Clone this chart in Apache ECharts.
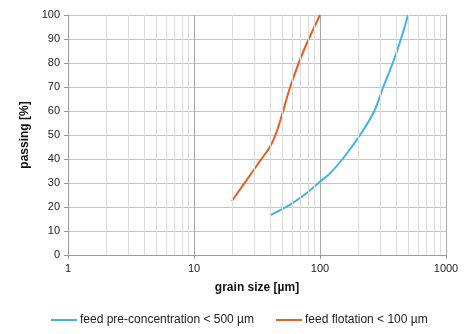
<!DOCTYPE html>
<html>
<head>
<meta charset="utf-8">
<script src="https://cdn.jsdelivr.net/npm/echarts@6/dist/echarts.min.js"></script>
<style>html,body{margin:0;padding:0;background:#fff}#c{width:474px;height:334px}</style>
</head>
<body>
<div id="c"></div>
<script>
var seriesNames = ['feed pre-concentration < 500 µm', 'feed flotation < 100 µm'];
var preConcSize = [40, 58, 78, 100, 120, 151, 208, 270, 318, 378, 439, 500];
var preConcPassing = [16.5, 21, 25.7, 30.5, 34, 40, 50, 60, 70, 80, 90, 100];
var flotSize = [20, 26, 33, 40, 45, 50, 58, 74, 100];
var flotPassing = [22.5, 31, 38.8, 45, 51, 58.5, 70, 85, 100];
var minorGrid = [2, 3, 4, 5, 6, 7, 8, 9, 20, 30, 40, 50, 60, 70, 80, 90, 200, 300, 400, 500, 600, 700, 800, 900];
var xTickLabels = ['1', '10', '100', '1000'];

function pairs(xs, ys) { return xs.map(function (x, i) { return [x, ys[i]]; }); }

var font = 'Liberation Sans, Arial, sans-serif';
var chart = echarts.init(document.getElementById('c'));
chart.setOption({
  animation: false,
  textStyle: { fontFamily: font },
  grid: { left: 68, right: 28, top: 15, bottom: 79 },
  legend: {
    data: seriesNames,
    left: 46, top: 309,
    icon: 'rect', itemWidth: 26, itemHeight: 2, itemGap: 22,
    textStyle: { fontFamily: font, fontSize: 12, color: '#222', padding: [0, 0, 0, -2] }
  },
  xAxis: {
    type: 'log', logBase: 10, min: 1, max: 1000,
    name: 'grain size [µm]', nameLocation: 'middle', nameGap: 27,
    nameTextStyle: { fontFamily: font, fontSize: 12, fontWeight: 'bold', color: '#111' },
    axisLine: { lineStyle: { color: '#9a9a9a' } },
    axisTick: { show: true, length: 4, lineStyle: { color: '#9a9a9a' } },
    axisLabel: {
      fontFamily: font, fontSize: 11, color: '#222', margin: 8,
      formatter: function (v) { var i = Math.round(Math.log10(v)); return xTickLabels[i] !== undefined ? xTickLabels[i] : String(v); }
    },
    splitLine: { show: true, lineStyle: { color: '#a8a8a8', width: 1 } }
  },
  yAxis: {
    type: 'value', min: 0, max: 100, interval: 10,
    name: 'passing [%]', nameLocation: 'middle', nameGap: 35, nameRotate: 90,
    nameTextStyle: { fontFamily: font, fontSize: 12, fontWeight: 'bold', color: '#111' },
    axisLine: { show: true, lineStyle: { color: '#9a9a9a' } },
    axisTick: { show: true, length: 4, lineStyle: { color: '#9a9a9a' } },
    axisLabel: { fontFamily: font, fontSize: 11, color: '#222', margin: 8 },
    splitLine: { show: true, lineStyle: { color: '#c4c4c4', width: 1 } }
  },
  series: [
    {
      name: 'minor', type: 'line', data: [], z: 1, silent: true,
      markLine: {
        silent: true, symbol: 'none', animation: false,
        label: { show: false },
        lineStyle: { color: '#dcdcdc', width: 1, type: 'solid' },
        emphasis: { disabled: true },
        data: minorGrid.map(function (v) { return { xAxis: v }; })
      }
    },
    {
      name: seriesNames[0], type: 'line', smooth: 0.3, showSymbol: false, z: 3,
      color: '#3db5e8', lineStyle: { width: 2, color: '#3db5e8' },
      data: pairs(preConcSize, preConcPassing)
    },
    {
      name: seriesNames[1], type: 'line', smooth: 0.3, showSymbol: false, z: 3,
      color: '#e8601c', lineStyle: { width: 2, color: '#e8601c' },
      data: pairs(flotSize, flotPassing)
    }
  ]
});
</script>
</body>
</html>
